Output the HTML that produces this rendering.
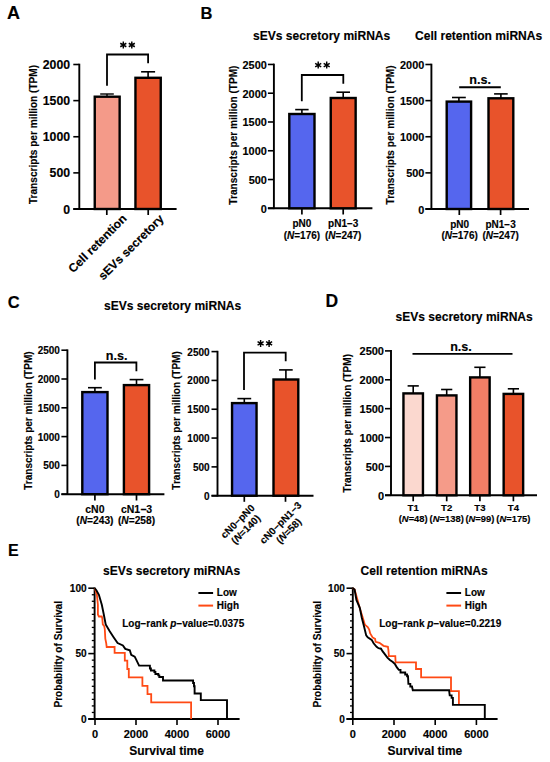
<!DOCTYPE html>
<html><head><meta charset="utf-8"><style>html,body{margin:0;padding:0;background:#fff;width:550px;height:762px;overflow:hidden} text{stroke:#000;stroke-width:0.15px}</style></head>
<body><svg width="550" height="762" viewBox="0 0 550 762" font-family="&quot;Liberation Sans&quot;, sans-serif" font-weight="bold" style="display:block"><rect width="550" height="762" fill="#fff"/><text x="7.00" y="18.50" font-size="18" text-anchor="start" >A</text><text x="200.60" y="18.70" font-size="16.5" text-anchor="start" >B</text><text x="7.70" y="307.50" font-size="16.5" text-anchor="start" >C</text><text x="325.50" y="307.40" font-size="17.5" text-anchor="start" >D</text><text x="8.00" y="555.50" font-size="16" text-anchor="start" >E</text><line x1="79.30" y1="63.70" x2="79.30" y2="209.80" stroke="#000" stroke-width="1.9"/><line x1="73.30" y1="209.00" x2="79.30" y2="209.00" stroke="#000" stroke-width="1.6"/><text x="70.10" y="213.50" font-size="12.3" text-anchor="end" >0</text><line x1="73.30" y1="172.88" x2="79.30" y2="172.88" stroke="#000" stroke-width="1.6"/><text x="70.10" y="177.38" font-size="12.3" text-anchor="end" >500</text><line x1="73.30" y1="136.75" x2="79.30" y2="136.75" stroke="#000" stroke-width="1.6"/><text x="70.10" y="141.25" font-size="12.3" text-anchor="end" >1000</text><line x1="73.30" y1="100.62" x2="79.30" y2="100.62" stroke="#000" stroke-width="1.6"/><text x="70.10" y="105.13" font-size="12.3" text-anchor="end" >1500</text><line x1="73.30" y1="64.50" x2="79.30" y2="64.50" stroke="#000" stroke-width="1.6"/><text x="70.10" y="69.01" font-size="12.3" text-anchor="end" >2000</text><line x1="73.30" y1="209.00" x2="176.60" y2="209.00" stroke="#000" stroke-width="1.9"/><text x="36.90" y="134.50" font-size="10.1" text-anchor="middle" transform="rotate(-90 36.90 134.50)">Transcripts per million (TPM)</text><rect x="94.75" y="96.70" width="24.90" height="112.30" fill="#F49A89" stroke="#000" stroke-width="2.4"/><rect x="135.45" y="77.80" width="25.30" height="131.20" fill="#E8532B" stroke="#000" stroke-width="2.4"/><line x1="107.00" y1="94.00" x2="107.00" y2="96.50" stroke="#000" stroke-width="1.4"/><line x1="100.20" y1="94.00" x2="113.80" y2="94.00" stroke="#000" stroke-width="1.4"/><line x1="148.10" y1="71.80" x2="148.10" y2="77.60" stroke="#000" stroke-width="1.6"/><line x1="141.10" y1="71.80" x2="155.10" y2="71.80" stroke="#000" stroke-width="1.6"/><line x1="106.80" y1="209.00" x2="106.80" y2="215.00" stroke="#000" stroke-width="1.7"/><line x1="148.20" y1="209.00" x2="148.20" y2="215.00" stroke="#000" stroke-width="1.7"/><polyline points="107.00,85.80 107.00,54.50 148.10,54.50 148.10,63.30" fill="none" stroke="#000" stroke-width="1.8" stroke-linejoin="miter" stroke-linecap="butt"/><path d="M123.30,41.50L123.30,48.50M120.27,43.25L126.33,46.75M126.33,43.25L120.27,46.75" stroke="#000" stroke-width="1.45"/><circle cx="123.30" cy="45.00" r="1.35" fill="#000"/><path d="M131.80,41.50L131.80,48.50M128.77,43.25L134.83,46.75M134.83,43.25L128.77,46.75" stroke="#000" stroke-width="1.45"/><circle cx="131.80" cy="45.00" r="1.35" fill="#000"/><text x="127.50" y="219.30" font-size="12" text-anchor="end" transform="rotate(-45 127.50 219.30)">Cell retention</text><text x="164.50" y="219.50" font-size="12" text-anchor="end" transform="rotate(-45 164.50 219.50)">sEVs secretory</text><line x1="273.90" y1="63.65" x2="273.90" y2="209.10" stroke="#000" stroke-width="1.9"/><line x1="267.90" y1="208.30" x2="273.90" y2="208.30" stroke="#000" stroke-width="1.6"/><text x="266.80" y="212.72" font-size="10.9" text-anchor="end" >0</text><line x1="267.90" y1="179.53" x2="273.90" y2="179.53" stroke="#000" stroke-width="1.6"/><text x="266.80" y="183.94" font-size="10.9" text-anchor="end" >500</text><line x1="267.90" y1="150.76" x2="273.90" y2="150.76" stroke="#000" stroke-width="1.6"/><text x="266.80" y="155.17" font-size="10.9" text-anchor="end" >1000</text><line x1="267.90" y1="121.99" x2="273.90" y2="121.99" stroke="#000" stroke-width="1.6"/><text x="266.80" y="126.40" font-size="10.9" text-anchor="end" >1500</text><line x1="267.90" y1="93.22" x2="273.90" y2="93.22" stroke="#000" stroke-width="1.6"/><text x="266.80" y="97.63" font-size="10.9" text-anchor="end" >2000</text><line x1="267.90" y1="64.45" x2="273.90" y2="64.45" stroke="#000" stroke-width="1.6"/><text x="266.80" y="68.86" font-size="10.9" text-anchor="end" >2500</text><line x1="267.90" y1="208.30" x2="372.40" y2="208.30" stroke="#000" stroke-width="1.9"/><text x="236.90" y="135.10" font-size="10.1" text-anchor="middle" transform="rotate(-90 236.90 135.10)">Transcripts per million (TPM)</text><text x="253.00" y="40.40" font-size="12.05" text-anchor="start" >sEVs secretory miRNAs</text><rect x="289.30" y="114.00" width="25.20" height="94.30" fill="#5566EE" stroke="#000" stroke-width="2.4"/><rect x="330.75" y="98.00" width="24.90" height="110.30" fill="#E8532B" stroke="#000" stroke-width="2.4"/><line x1="301.90" y1="109.60" x2="301.90" y2="113.80" stroke="#000" stroke-width="1.6"/><line x1="295.20" y1="109.60" x2="308.60" y2="109.60" stroke="#000" stroke-width="1.6"/><line x1="343.20" y1="92.20" x2="343.20" y2="97.80" stroke="#000" stroke-width="1.6"/><line x1="336.40" y1="92.20" x2="350.00" y2="92.20" stroke="#000" stroke-width="1.6"/><line x1="301.90" y1="208.30" x2="301.90" y2="214.50" stroke="#000" stroke-width="1.7"/><line x1="343.20" y1="208.30" x2="343.20" y2="214.50" stroke="#000" stroke-width="1.7"/><polyline points="301.80,101.20 301.80,75.00 343.30,75.00 343.30,83.70" fill="none" stroke="#000" stroke-width="1.8" stroke-linejoin="miter" stroke-linecap="butt"/><path d="M318.20,61.60L318.20,68.60M315.17,63.35L321.23,66.85M321.23,63.35L315.17,66.85" stroke="#000" stroke-width="1.45"/><circle cx="318.20" cy="65.10" r="1.35" fill="#000"/><path d="M326.70,61.60L326.70,68.60M323.67,63.35L329.73,66.85M329.73,63.35L323.67,66.85" stroke="#000" stroke-width="1.45"/><circle cx="326.70" cy="65.10" r="1.35" fill="#000"/><text x="301.90" y="227.30" font-size="10" text-anchor="middle" >pN0</text><text x="301.90" y="238.70" font-size="10" text-anchor="middle" >(<tspan font-style="italic">N</tspan>=176)</text><text x="343.20" y="227.30" font-size="10" text-anchor="middle" >pN1−3</text><text x="343.20" y="238.70" font-size="10" text-anchor="middle" >(<tspan font-style="italic">N</tspan>=247)</text><line x1="431.40" y1="63.70" x2="431.40" y2="209.80" stroke="#000" stroke-width="1.9"/><line x1="425.40" y1="209.00" x2="431.40" y2="209.00" stroke="#000" stroke-width="1.6"/><text x="424.30" y="213.62" font-size="10.9" text-anchor="end" >0</text><line x1="425.40" y1="172.88" x2="431.40" y2="172.88" stroke="#000" stroke-width="1.6"/><text x="424.30" y="177.49" font-size="10.9" text-anchor="end" >500</text><line x1="425.40" y1="136.75" x2="431.40" y2="136.75" stroke="#000" stroke-width="1.6"/><text x="424.30" y="141.37" font-size="10.9" text-anchor="end" >1000</text><line x1="425.40" y1="100.62" x2="431.40" y2="100.62" stroke="#000" stroke-width="1.6"/><text x="424.30" y="105.24" font-size="10.9" text-anchor="end" >1500</text><line x1="425.40" y1="64.50" x2="431.40" y2="64.50" stroke="#000" stroke-width="1.6"/><text x="424.30" y="69.11" font-size="10.9" text-anchor="end" >2000</text><line x1="425.40" y1="209.00" x2="529.00" y2="209.00" stroke="#000" stroke-width="1.9"/><text x="394.10" y="134.90" font-size="10.1" text-anchor="middle" transform="rotate(-90 394.10 134.90)">Transcripts per million (TPM)</text><text x="415.00" y="40.40" font-size="12.05" text-anchor="start" >Cell retention miRNAs</text><rect x="446.70" y="101.60" width="24.40" height="107.40" fill="#5566EE" stroke="#000" stroke-width="2.4"/><rect x="488.50" y="98.30" width="24.80" height="110.70" fill="#E8532B" stroke="#000" stroke-width="2.4"/><line x1="458.90" y1="97.50" x2="458.90" y2="101.40" stroke="#000" stroke-width="1.6"/><line x1="452.00" y1="97.50" x2="465.80" y2="97.50" stroke="#000" stroke-width="1.6"/><line x1="500.90" y1="93.90" x2="500.90" y2="98.10" stroke="#000" stroke-width="1.6"/><line x1="494.10" y1="93.90" x2="507.70" y2="93.90" stroke="#000" stroke-width="1.6"/><line x1="459.30" y1="209.00" x2="459.30" y2="215.00" stroke="#000" stroke-width="1.7"/><line x1="500.60" y1="209.00" x2="500.60" y2="215.00" stroke="#000" stroke-width="1.7"/><line x1="459.20" y1="87.20" x2="500.80" y2="87.20" stroke="#000" stroke-width="1.9"/><text x="480.20" y="84.00" font-size="12.6" text-anchor="middle" >n.s.</text><text x="459.60" y="227.80" font-size="10" text-anchor="middle" >pN0</text><text x="459.60" y="239.20" font-size="10" text-anchor="middle" >(<tspan font-style="italic">N</tspan>=176)</text><text x="500.60" y="227.80" font-size="10" text-anchor="middle" >pN1−3</text><text x="500.60" y="239.20" font-size="10" text-anchor="middle" >(<tspan font-style="italic">N</tspan>=247)</text><text x="104.00" y="310.40" font-size="12.05" text-anchor="start" >sEVs secretory miRNAs</text><line x1="67.40" y1="349.40" x2="67.40" y2="495.00" stroke="#000" stroke-width="1.9"/><line x1="61.40" y1="494.20" x2="67.40" y2="494.20" stroke="#000" stroke-width="1.6"/><text x="59.90" y="498.20" font-size="10.0" text-anchor="end" >0</text><line x1="61.40" y1="465.40" x2="67.40" y2="465.40" stroke="#000" stroke-width="1.6"/><text x="59.90" y="469.40" font-size="10.0" text-anchor="end" >500</text><line x1="61.40" y1="436.60" x2="67.40" y2="436.60" stroke="#000" stroke-width="1.6"/><text x="59.90" y="440.60" font-size="10.0" text-anchor="end" >1000</text><line x1="61.40" y1="407.80" x2="67.40" y2="407.80" stroke="#000" stroke-width="1.6"/><text x="59.90" y="411.80" font-size="10.0" text-anchor="end" >1500</text><line x1="61.40" y1="379.00" x2="67.40" y2="379.00" stroke="#000" stroke-width="1.6"/><text x="59.90" y="383.00" font-size="10.0" text-anchor="end" >2000</text><line x1="61.40" y1="350.20" x2="67.40" y2="350.20" stroke="#000" stroke-width="1.6"/><text x="59.90" y="354.20" font-size="10.0" text-anchor="end" >2500</text><line x1="61.40" y1="494.20" x2="164.40" y2="494.20" stroke="#000" stroke-width="1.9"/><text x="31.90" y="420.60" font-size="10.05" text-anchor="middle" transform="rotate(-90 31.90 420.60)">Transcripts per million (TPM)</text><rect x="82.30" y="392.10" width="25.20" height="102.10" fill="#5566EE" stroke="#000" stroke-width="2.4"/><rect x="123.90" y="385.10" width="25.20" height="109.10" fill="#E8532B" stroke="#000" stroke-width="2.4"/><line x1="94.90" y1="387.70" x2="94.90" y2="391.90" stroke="#000" stroke-width="1.6"/><line x1="88.00" y1="387.70" x2="101.80" y2="387.70" stroke="#000" stroke-width="1.6"/><line x1="136.50" y1="379.60" x2="136.50" y2="384.90" stroke="#000" stroke-width="1.6"/><line x1="129.60" y1="379.60" x2="143.40" y2="379.60" stroke="#000" stroke-width="1.6"/><line x1="94.90" y1="494.20" x2="94.90" y2="500.50" stroke="#000" stroke-width="1.7"/><line x1="136.50" y1="494.20" x2="136.50" y2="500.50" stroke="#000" stroke-width="1.7"/><polyline points="94.90,379.60 94.90,362.50 136.40,362.50 136.40,371.30" fill="none" stroke="#000" stroke-width="1.8" stroke-linejoin="miter" stroke-linecap="butt"/><text x="116.60" y="359.60" font-size="12.6" text-anchor="middle" >n.s.</text><text x="94.90" y="512.70" font-size="10.5" text-anchor="middle" >cN0</text><text x="94.90" y="524.00" font-size="10.2" text-anchor="middle" >(<tspan font-style="italic">N</tspan>=243)</text><text x="136.50" y="512.70" font-size="10.5" text-anchor="middle" >cN1−3</text><text x="136.50" y="524.00" font-size="10.2" text-anchor="middle" >(<tspan font-style="italic">N</tspan>=258)</text><line x1="217.50" y1="350.80" x2="217.50" y2="496.50" stroke="#000" stroke-width="1.9"/><line x1="211.50" y1="495.70" x2="217.50" y2="495.70" stroke="#000" stroke-width="1.6"/><text x="209.60" y="499.60" font-size="10.0" text-anchor="end" >0</text><line x1="211.50" y1="466.88" x2="217.50" y2="466.88" stroke="#000" stroke-width="1.6"/><text x="209.60" y="470.78" font-size="10.0" text-anchor="end" >500</text><line x1="211.50" y1="438.06" x2="217.50" y2="438.06" stroke="#000" stroke-width="1.6"/><text x="209.60" y="441.96" font-size="10.0" text-anchor="end" >1000</text><line x1="211.50" y1="409.24" x2="217.50" y2="409.24" stroke="#000" stroke-width="1.6"/><text x="209.60" y="413.14" font-size="10.0" text-anchor="end" >1500</text><line x1="211.50" y1="380.42" x2="217.50" y2="380.42" stroke="#000" stroke-width="1.6"/><text x="209.60" y="384.32" font-size="10.0" text-anchor="end" >2000</text><line x1="211.50" y1="351.60" x2="217.50" y2="351.60" stroke="#000" stroke-width="1.6"/><text x="209.60" y="355.50" font-size="10.0" text-anchor="end" >2500</text><line x1="211.50" y1="495.70" x2="313.50" y2="495.70" stroke="#000" stroke-width="1.9"/><text x="179.60" y="420.40" font-size="10.05" text-anchor="middle" transform="rotate(-90 179.60 420.40)">Transcripts per million (TPM)</text><rect x="232.05" y="403.10" width="24.50" height="92.60" fill="#5566EE" stroke="#000" stroke-width="2.4"/><rect x="273.50" y="379.50" width="24.80" height="116.20" fill="#E8532B" stroke="#000" stroke-width="2.4"/><line x1="244.30" y1="398.60" x2="244.30" y2="402.90" stroke="#000" stroke-width="1.6"/><line x1="237.40" y1="398.60" x2="251.20" y2="398.60" stroke="#000" stroke-width="1.6"/><line x1="285.90" y1="369.90" x2="285.90" y2="379.30" stroke="#000" stroke-width="1.6"/><line x1="279.10" y1="369.90" x2="292.70" y2="369.90" stroke="#000" stroke-width="1.6"/><line x1="244.30" y1="495.70" x2="244.30" y2="501.80" stroke="#000" stroke-width="1.7"/><line x1="285.50" y1="495.70" x2="285.50" y2="501.80" stroke="#000" stroke-width="1.7"/><polyline points="244.00,390.00 244.00,352.70 285.70,352.70 285.70,361.20" fill="none" stroke="#000" stroke-width="1.8" stroke-linejoin="miter" stroke-linecap="butt"/><path d="M260.60,339.90L260.60,346.90M257.57,341.65L263.63,345.15M263.63,341.65L257.57,345.15" stroke="#000" stroke-width="1.45"/><circle cx="260.60" cy="343.40" r="1.35" fill="#000"/><path d="M269.10,339.90L269.10,346.90M266.07,341.65L272.13,345.15M272.13,341.65L266.07,345.15" stroke="#000" stroke-width="1.45"/><circle cx="269.10" cy="343.40" r="1.35" fill="#000"/><g transform="rotate(-45 240.10 523.70)"><text x="240.10" y="523.70" font-size="10" text-anchor="middle">cN0−pN0</text><text x="240.10" y="535.20" font-size="10" text-anchor="middle">(<tspan font-style="italic">N</tspan>=140)</text></g><g transform="rotate(-45 283.00 525.20)"><text x="283.00" y="525.20" font-size="10" text-anchor="middle">cN0−pN1−3</text><text x="283.00" y="536.70" font-size="10" text-anchor="middle">(<tspan font-style="italic">N</tspan>=58)</text></g><text x="395.50" y="321.00" font-size="12.05" text-anchor="start" >sEVs secretory miRNAs</text><line x1="391.00" y1="350.10" x2="391.00" y2="496.10" stroke="#000" stroke-width="1.9"/><line x1="385.00" y1="495.30" x2="391.00" y2="495.30" stroke="#000" stroke-width="1.6"/><text x="384.00" y="499.65" font-size="11.0" text-anchor="end" >0</text><line x1="385.00" y1="466.42" x2="391.00" y2="466.42" stroke="#000" stroke-width="1.6"/><text x="384.00" y="470.77" font-size="11.0" text-anchor="end" >500</text><line x1="385.00" y1="437.54" x2="391.00" y2="437.54" stroke="#000" stroke-width="1.6"/><text x="384.00" y="441.89" font-size="11.0" text-anchor="end" >1000</text><line x1="385.00" y1="408.66" x2="391.00" y2="408.66" stroke="#000" stroke-width="1.6"/><text x="384.00" y="413.01" font-size="11.0" text-anchor="end" >1500</text><line x1="385.00" y1="379.78" x2="391.00" y2="379.78" stroke="#000" stroke-width="1.6"/><text x="384.00" y="384.13" font-size="11.0" text-anchor="end" >2000</text><line x1="385.00" y1="350.90" x2="391.00" y2="350.90" stroke="#000" stroke-width="1.6"/><text x="384.00" y="355.25" font-size="11.0" text-anchor="end" >2500</text><line x1="385.00" y1="495.30" x2="537.00" y2="495.30" stroke="#000" stroke-width="1.9"/><text x="351.10" y="423.20" font-size="10.05" text-anchor="middle" transform="rotate(-90 351.10 423.20)">Transcripts per million (TPM)</text><rect x="403.45" y="393.40" width="19.50" height="101.90" fill="#FBD8CF" stroke="#000" stroke-width="2.4"/><line x1="413.20" y1="385.90" x2="413.20" y2="393.20" stroke="#000" stroke-width="1.6"/><line x1="407.60" y1="385.90" x2="418.80" y2="385.90" stroke="#000" stroke-width="1.6"/><line x1="413.20" y1="495.30" x2="413.20" y2="501.30" stroke="#000" stroke-width="1.7"/><text x="413.20" y="511.40" font-size="9.6" text-anchor="middle" >T1</text><text x="413.20" y="522.00" font-size="9.4" text-anchor="middle" >(<tspan font-style="italic">N</tspan>=48)</text><rect x="436.95" y="395.40" width="19.50" height="99.90" fill="#F59B89" stroke="#000" stroke-width="2.4"/><line x1="446.70" y1="389.50" x2="446.70" y2="395.20" stroke="#000" stroke-width="1.6"/><line x1="441.10" y1="389.50" x2="452.30" y2="389.50" stroke="#000" stroke-width="1.6"/><line x1="446.70" y1="495.30" x2="446.70" y2="501.30" stroke="#000" stroke-width="1.7"/><text x="446.70" y="511.40" font-size="9.6" text-anchor="middle" >T2</text><text x="446.70" y="522.00" font-size="9.4" text-anchor="middle" >(<tspan font-style="italic">N</tspan>=138)</text><rect x="470.15" y="377.40" width="19.50" height="117.90" fill="#F37E66" stroke="#000" stroke-width="2.4"/><line x1="479.90" y1="367.30" x2="479.90" y2="377.20" stroke="#000" stroke-width="1.6"/><line x1="474.30" y1="367.30" x2="485.50" y2="367.30" stroke="#000" stroke-width="1.6"/><line x1="479.90" y1="495.30" x2="479.90" y2="501.30" stroke="#000" stroke-width="1.7"/><text x="479.90" y="511.40" font-size="9.6" text-anchor="middle" >T3</text><text x="479.90" y="522.00" font-size="9.4" text-anchor="middle" >(<tspan font-style="italic">N</tspan>=99)</text><rect x="503.65" y="393.90" width="19.50" height="101.40" fill="#E8532B" stroke="#000" stroke-width="2.4"/><line x1="513.40" y1="388.80" x2="513.40" y2="393.70" stroke="#000" stroke-width="1.6"/><line x1="507.80" y1="388.80" x2="519.00" y2="388.80" stroke="#000" stroke-width="1.6"/><line x1="513.40" y1="495.30" x2="513.40" y2="501.30" stroke="#000" stroke-width="1.7"/><text x="513.40" y="511.40" font-size="9.6" text-anchor="middle" >T4</text><text x="513.40" y="522.00" font-size="9.4" text-anchor="middle" >(<tspan font-style="italic">N</tspan>=175)</text><line x1="412.50" y1="353.90" x2="512.50" y2="353.90" stroke="#000" stroke-width="1.9"/><text x="461.00" y="350.70" font-size="12.6" text-anchor="middle" >n.s.</text><line x1="94.60" y1="587.40" x2="94.60" y2="719.80" stroke="#000" stroke-width="1.9"/><line x1="88.30" y1="719.00" x2="94.60" y2="719.00" stroke="#000" stroke-width="1.6"/><line x1="91.80" y1="712.46" x2="94.60" y2="712.46" stroke="#000" stroke-width="1.3"/><line x1="91.80" y1="705.92" x2="94.60" y2="705.92" stroke="#000" stroke-width="1.3"/><line x1="91.80" y1="699.38" x2="94.60" y2="699.38" stroke="#000" stroke-width="1.3"/><line x1="91.80" y1="692.84" x2="94.60" y2="692.84" stroke="#000" stroke-width="1.3"/><line x1="91.80" y1="686.30" x2="94.60" y2="686.30" stroke="#000" stroke-width="1.3"/><line x1="91.80" y1="679.76" x2="94.60" y2="679.76" stroke="#000" stroke-width="1.3"/><line x1="91.80" y1="673.22" x2="94.60" y2="673.22" stroke="#000" stroke-width="1.3"/><line x1="91.80" y1="666.68" x2="94.60" y2="666.68" stroke="#000" stroke-width="1.3"/><line x1="91.80" y1="660.14" x2="94.60" y2="660.14" stroke="#000" stroke-width="1.3"/><line x1="88.30" y1="653.60" x2="94.60" y2="653.60" stroke="#000" stroke-width="1.6"/><line x1="91.80" y1="647.06" x2="94.60" y2="647.06" stroke="#000" stroke-width="1.3"/><line x1="91.80" y1="640.52" x2="94.60" y2="640.52" stroke="#000" stroke-width="1.3"/><line x1="91.80" y1="633.98" x2="94.60" y2="633.98" stroke="#000" stroke-width="1.3"/><line x1="91.80" y1="627.44" x2="94.60" y2="627.44" stroke="#000" stroke-width="1.3"/><line x1="91.80" y1="620.90" x2="94.60" y2="620.90" stroke="#000" stroke-width="1.3"/><line x1="91.80" y1="614.36" x2="94.60" y2="614.36" stroke="#000" stroke-width="1.3"/><line x1="91.80" y1="607.82" x2="94.60" y2="607.82" stroke="#000" stroke-width="1.3"/><line x1="91.80" y1="601.28" x2="94.60" y2="601.28" stroke="#000" stroke-width="1.3"/><line x1="91.80" y1="594.74" x2="94.60" y2="594.74" stroke="#000" stroke-width="1.3"/><line x1="88.30" y1="588.20" x2="94.60" y2="588.20" stroke="#000" stroke-width="1.6"/><text x="86.70" y="722.80" font-size="10.1" text-anchor="end" >0</text><text x="86.70" y="657.40" font-size="10.1" text-anchor="end" >50</text><text x="86.70" y="592.00" font-size="10.1" text-anchor="end" >100</text><line x1="88.30" y1="719.00" x2="239.60" y2="719.00" stroke="#000" stroke-width="1.9"/><line x1="95.00" y1="719.00" x2="95.00" y2="725.00" stroke="#000" stroke-width="1.6"/><text x="95.00" y="738.00" font-size="11.0" text-anchor="middle" >0</text><line x1="136.00" y1="719.00" x2="136.00" y2="725.00" stroke="#000" stroke-width="1.6"/><text x="136.00" y="738.00" font-size="11.0" text-anchor="middle" >2000</text><line x1="177.00" y1="719.00" x2="177.00" y2="725.00" stroke="#000" stroke-width="1.6"/><text x="177.00" y="738.00" font-size="11.0" text-anchor="middle" >4000</text><line x1="218.00" y1="719.00" x2="218.00" y2="725.00" stroke="#000" stroke-width="1.6"/><text x="218.00" y="738.00" font-size="11.0" text-anchor="middle" >6000</text><text x="166.60" y="755.20" font-size="12.0" text-anchor="middle" >Survival time</text><text x="61.90" y="654.30" font-size="10.1" text-anchor="middle" transform="rotate(-90 61.90 654.30)">Probability of Survival</text><text x="103.00" y="575.00" font-size="12.05" text-anchor="start" >sEVs secretory miRNAs</text><line x1="198.40" y1="593.00" x2="213.10" y2="593.00" stroke="#000" stroke-width="2.0"/><line x1="198.40" y1="605.60" x2="213.10" y2="605.60" stroke="#FF4A14" stroke-width="2.0"/><text x="216.80" y="596.40" font-size="10.0" text-anchor="start" >Low</text><text x="216.80" y="608.90" font-size="10.0" text-anchor="start" >High</text><text x="122.20" y="627.00" font-size="10.0" text-anchor="start" >Log−rank <tspan font-style="italic">p</tspan>−value=0.0375</text><line x1="352.80" y1="587.40" x2="352.80" y2="719.80" stroke="#000" stroke-width="1.9"/><line x1="346.50" y1="719.00" x2="352.80" y2="719.00" stroke="#000" stroke-width="1.6"/><line x1="350.00" y1="712.46" x2="352.80" y2="712.46" stroke="#000" stroke-width="1.3"/><line x1="350.00" y1="705.92" x2="352.80" y2="705.92" stroke="#000" stroke-width="1.3"/><line x1="350.00" y1="699.38" x2="352.80" y2="699.38" stroke="#000" stroke-width="1.3"/><line x1="350.00" y1="692.84" x2="352.80" y2="692.84" stroke="#000" stroke-width="1.3"/><line x1="350.00" y1="686.30" x2="352.80" y2="686.30" stroke="#000" stroke-width="1.3"/><line x1="350.00" y1="679.76" x2="352.80" y2="679.76" stroke="#000" stroke-width="1.3"/><line x1="350.00" y1="673.22" x2="352.80" y2="673.22" stroke="#000" stroke-width="1.3"/><line x1="350.00" y1="666.68" x2="352.80" y2="666.68" stroke="#000" stroke-width="1.3"/><line x1="350.00" y1="660.14" x2="352.80" y2="660.14" stroke="#000" stroke-width="1.3"/><line x1="346.50" y1="653.60" x2="352.80" y2="653.60" stroke="#000" stroke-width="1.6"/><line x1="350.00" y1="647.06" x2="352.80" y2="647.06" stroke="#000" stroke-width="1.3"/><line x1="350.00" y1="640.52" x2="352.80" y2="640.52" stroke="#000" stroke-width="1.3"/><line x1="350.00" y1="633.98" x2="352.80" y2="633.98" stroke="#000" stroke-width="1.3"/><line x1="350.00" y1="627.44" x2="352.80" y2="627.44" stroke="#000" stroke-width="1.3"/><line x1="350.00" y1="620.90" x2="352.80" y2="620.90" stroke="#000" stroke-width="1.3"/><line x1="350.00" y1="614.36" x2="352.80" y2="614.36" stroke="#000" stroke-width="1.3"/><line x1="350.00" y1="607.82" x2="352.80" y2="607.82" stroke="#000" stroke-width="1.3"/><line x1="350.00" y1="601.28" x2="352.80" y2="601.28" stroke="#000" stroke-width="1.3"/><line x1="350.00" y1="594.74" x2="352.80" y2="594.74" stroke="#000" stroke-width="1.3"/><line x1="346.50" y1="588.20" x2="352.80" y2="588.20" stroke="#000" stroke-width="1.6"/><text x="344.90" y="722.80" font-size="10.1" text-anchor="end" >0</text><text x="344.90" y="657.40" font-size="10.1" text-anchor="end" >50</text><text x="344.90" y="592.00" font-size="10.1" text-anchor="end" >100</text><line x1="346.50" y1="719.00" x2="497.60" y2="719.00" stroke="#000" stroke-width="1.9"/><line x1="352.80" y1="719.00" x2="352.80" y2="725.00" stroke="#000" stroke-width="1.6"/><text x="352.80" y="738.00" font-size="11.0" text-anchor="middle" >0</text><line x1="394.00" y1="719.00" x2="394.00" y2="725.00" stroke="#000" stroke-width="1.6"/><text x="394.00" y="738.00" font-size="11.0" text-anchor="middle" >2000</text><line x1="435.20" y1="719.00" x2="435.20" y2="725.00" stroke="#000" stroke-width="1.6"/><text x="435.20" y="738.00" font-size="11.0" text-anchor="middle" >4000</text><line x1="476.40" y1="719.00" x2="476.40" y2="725.00" stroke="#000" stroke-width="1.6"/><text x="476.40" y="738.00" font-size="11.0" text-anchor="middle" >6000</text><text x="424.90" y="755.20" font-size="12.0" text-anchor="middle" >Survival time</text><text x="321.20" y="654.30" font-size="10.1" text-anchor="middle" transform="rotate(-90 321.20 654.30)">Probability of Survival</text><text x="360.60" y="575.00" font-size="12.05" text-anchor="start" >Cell retention miRNAs</text><line x1="446.40" y1="593.00" x2="461.10" y2="593.00" stroke="#000" stroke-width="2.0"/><line x1="446.40" y1="605.60" x2="461.10" y2="605.60" stroke="#FF4A14" stroke-width="2.0"/><text x="464.80" y="596.40" font-size="10.0" text-anchor="start" >Low</text><text x="464.80" y="608.90" font-size="10.0" text-anchor="start" >High</text><text x="379.20" y="627.00" font-size="10.0" text-anchor="start" >Log−rank <tspan font-style="italic">p</tspan>−value=0.2219</text><polyline points="94.80,588.20 96.90,594.80 97.90,604.70 97.90,614.50 98.90,616.50 101.80,616.50 102.30,618.50 102.80,624.40 104.30,626.30 104.80,629.30 105.30,638.60 106.20,643.10 106.70,647.00 114.60,647.00 114.60,652.80 124.80,652.80 124.80,660.70 127.30,660.70 127.30,669.00 128.80,669.00 128.80,677.40 142.40,677.40 142.40,685.80 147.50,685.80 147.50,694.10 151.20,694.10 151.20,702.30 191.10,702.30 191.10,719.00" fill="none" stroke="#FF4A14" stroke-width="1.8" stroke-linejoin="miter" stroke-linecap="butt"/><polyline points="94.80,588.20 96.50,590.50 98.90,594.80 101.80,604.70 103.80,614.50 105.70,624.40 109.70,631.30 113.60,637.20 117.60,643.10 122.90,645.40 125.30,648.90 129.80,650.30 131.20,654.80 134.70,656.70 136.20,659.70 139.10,665.60 149.90,665.60 149.90,668.50 150.90,668.50 150.90,670.50 154.40,670.50 154.40,672.00 155.40,672.00 155.40,674.00 158.30,674.00 158.30,675.40 159.30,675.40 159.30,677.00 163.00,677.00 163.00,680.50 193.10,680.50 193.10,683.00 194.00,683.00 194.00,686.30 194.60,686.30 194.60,693.50 200.80,693.50 200.80,700.10 227.00,700.10 227.00,719.00" fill="none" stroke="#000" stroke-width="1.9" stroke-linejoin="miter" stroke-linecap="butt"/><polyline points="352.80,588.20 354.60,589.60 357.00,598.00 359.50,607.30 362.80,617.70 364.80,624.60 367.70,627.10 369.20,629.50 370.20,633.50 372.60,637.40 375.10,638.90 375.60,641.80 379.50,642.80 383.50,645.80 387.90,646.80 388.40,650.20 388.90,656.10 395.30,656.10 395.60,662.30 416.00,662.30 416.00,669.00 421.10,669.00 421.10,677.30 451.00,677.30 451.00,691.20 458.90,691.20 458.90,705.00" fill="none" stroke="#FF4A14" stroke-width="1.8" stroke-linejoin="miter" stroke-linecap="butt"/><polyline points="352.80,588.20 354.60,589.60 356.40,600.00 359.80,607.90 361.80,617.70 363.80,625.60 366.20,635.40 367.70,637.40 371.70,639.90 373.60,643.30 376.60,646.80 378.50,648.20 381.00,648.70 382.50,651.20 384.40,653.60 387.40,657.60 389.90,660.00 392.80,662.00 395.00,664.20 396.90,667.40 398.80,669.90 400.50,669.90 400.50,672.50 405.20,672.50 405.20,674.50 407.10,674.50 407.10,676.30 408.00,676.30 408.40,683.90 410.30,683.90 410.30,686.50 412.00,686.50 412.80,690.30 449.10,690.30 449.70,695.40 451.60,695.40 451.60,697.90 452.90,697.90 452.90,704.90 484.80,704.90 484.80,719.00" fill="none" stroke="#000" stroke-width="1.9" stroke-linejoin="miter" stroke-linecap="butt"/></svg></body></html>
